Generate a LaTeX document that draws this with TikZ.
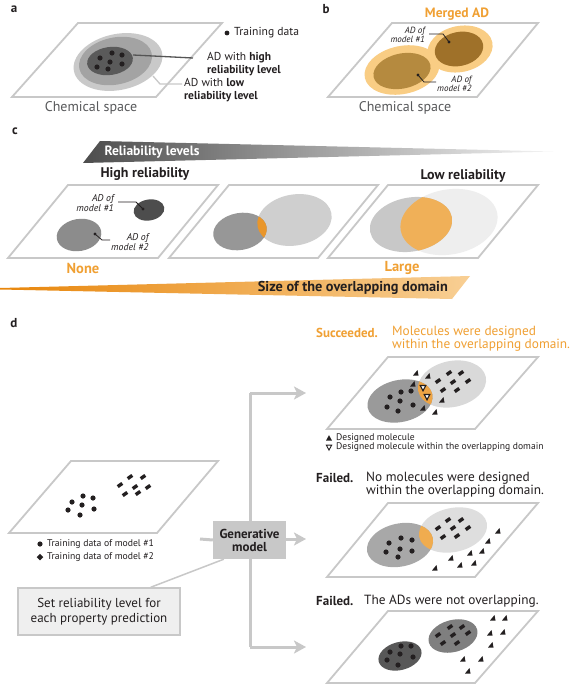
\documentclass[tikz,border=0pt]{standalone}
\usepackage{fontspec}
\setmainfont{PT Sans}
\usetikzlibrary{arrows.meta}
\definecolor{ink}{HTML}{231F20}
\definecolor{planec}{HTML}{C8C8C8}
\definecolor{orangeT}{HTML}{F0A033}
\definecolor{chem}{HTML}{58595B}
\definecolor{hiline}{HTML}{555555}
\definecolor{agA}{HTML}{C9C9C9}
\definecolor{agB}{HTML}{A3A3A3}
\definecolor{agC}{HTML}{5A5A5A}
\definecolor{halo}{HTML}{F9CD84}
\definecolor{brownA}{HTML}{9F7129}
\definecolor{brownB}{HTML}{B58A3F}
\definecolor{cdark}{HTML}{4D4D4D}
\definecolor{cmid}{HTML}{8C8C8C}
\definecolor{ptwoL}{HTML}{979797}
\definecolor{ptwoR}{HTML}{CFCFCF}
\definecolor{ptwoO}{HTML}{E9962B}
\definecolor{pthrL}{HTML}{C8C8C8}
\definecolor{pthrR}{HTML}{EEEEEE}
\definecolor{pthrO}{HTML}{F0B058}
\definecolor{sL}{HTML}{9A9A9A}
\definecolor{sR}{HTML}{D9D9D9}
\definecolor{sO}{HTML}{EEA445}
\definecolor{fL}{HTML}{A8A8A8}
\definecolor{fR}{HTML}{DEDEDE}
\definecolor{fO}{HTML}{F0AC4F}
\definecolor{gL}{HTML}{585858}
\definecolor{gR}{HTML}{7F7F7F}
\definecolor{boxg}{HTML}{C8C8C8}
\definecolor{boxl}{HTML}{EFEFEF}
\newcommand\fs[2]{\fontsize{#1}{#2}\selectfont}
\newcommand\myell[6]{\fill[#1, rotate around={#6:(#2,#3)}] (#2,#3) ellipse [x radius=#4, y radius=#5];}
\newcommand\mydot[2]{\fill[ink] (#1,#2) circle[radius=2.6];}
\newcommand\mydia[2]{\fill[ink, shift={(#1,#2)}, rotate=35] (-2.8,-1.7) rectangle (2.8,1.7);}
\newcommand\mytri[2]{\fill[ink, shift={(#1,#2)}] (-3,2.5) -- (2.5,2.5) -- (1.5,-3) -- cycle;}
\newcommand\myotri[2]{\filldraw[fill=white, draw=ink, line width=1.1pt, shift={(#1,#2)}] (-2.8,-2.5) -- (2.8,-2.5) -- (0,2.8) -- cycle;}
\tikzset{
  planeline/.style={draw=planec, line width=1.8pt, line join=miter},
  txt/.style={inner sep=0pt, text=ink},
  lab/.style={txt, font=\fs{13}{15}\bfseries},
  leader/.style={draw=ink, line width=0.8pt},
  small/.style={txt, font=\fs{9}{8}\itshape},
  smallc/.style={txt, font=\fs{9.8}{10}\itshape},
  head/.style={txt, font=\fs{13.5}{14}\bfseries},
  headd/.style={txt, font=\fs{13}{14}\bfseries},
  body/.style={txt, font=\fs{13.3}{12}},
  flow/.style={draw=planec, line width=3pt, line join=miter},
  tip/.style={-{Stealth[length=12pt,width=13pt,inset=3pt]}},
}
\begin{document}
\begin{tikzpicture}[x=1pt,y=-1pt]
\useasboundingbox (0,0) rectangle (574,685);
\fill[white] (0,0) rectangle (574,685);

% ================= a
\node[lab] (la) at (14,9) {a};
\draw[planeline] (78,23) -- (222,23) -- (156,97) -- (12,97) -- cycle;
\myell{agA}{118}{62}{45}{28}{12}
\myell{agB}{115.5}{61}{37}{23.5}{12}
\myell{agC}{110}{61}{23}{14}{8}
\foreach \x/\y in {112/53,122/55,100/58,110/62,122/64,97/67,108/69} {\mydot{\x}{\y}}
\coordinate (ha1) at (133,55); \coordinate (ha2) at (193,58);
\draw[line width=1.3pt, draw=hiline] (ha1) -- (ha2);
\node[txt, anchor=west, align=left, font=\fs{11.5}{12.5}] (hightxt) at (207,64) {AD with \textbf{high}\\\textbf{reliability level}};
\coordinate (lo1) at (153,76); \coordinate (lo2) at (160,84); \coordinate (lo3) at (182,84);
\draw[line width=1.3pt, draw=planec] (lo1) -- (lo2) -- (lo3);
\node[txt, anchor=west, align=left, font=\fs{11.5}{12.5}] (lowtxt) at (184,90) {AD with \textbf{low}\\\textbf{reliability level}};
\fill[ink] (227,33) circle[radius=2.4];
\node[txt, anchor=west, font=\fs{11.6}{12}] (train) at (234,33) {Training data};
\node[txt, text=chem, font=\fs{14}{15}] (chemA) at (91,108) {Chemical space};

% ================= b
\node[lab] (lb) at (326,9) {b};
\node[head, text=orangeT] (merged) at (457,14) {Merged AD};
\draw[planeline] (392,23) -- (538,23) -- (477,97) -- (328,97) -- cycle;
\myell{halo}{402}{70}{38}{24}{12}
\myell{halo}{460}{49}{33}{23}{12}
\myell{brownB}{402}{71}{29}{17.5}{12}
\myell{brownA}{459}{49}{24.5}{17}{12}
\coordinate (b1a) at (449,42); \coordinate (b1b) at (443,34); \coordinate (b1c) at (429,34);
\fill[ink] (b1a) circle[radius=1.6];
\draw[leader] (b1a) -- (b1b) -- (b1c);
\node[small, anchor=east, align=right] (m1b) at (425,35) {AD of\\model \#1};
\coordinate (b2a) at (418,75); \coordinate (b2b) at (424,82); \coordinate (b2c) at (436,82);
\fill[ink] (b2a) circle[radius=1.6];
\draw[leader] (b2a) -- (b2b) -- (b2c);
\node[small, anchor=west, align=right] (m2b) at (437,84) {AD of\\model \#2};
\node[txt, text=chem, font=\fs{14}{15}] (chemB) at (405,108) {Chemical space};

% ================= c
\node[lab] (lc) at (15,131) {c};
\shade[left color=cdark, right color=white!96!black] (100,141) -- (553,151.5) -- (83,163) -- cycle;
\node[head, text=white] (rel) at (152,152) {Reliability levels};
\node[head, font=\fs{14}{15}\bfseries] (hirel) at (145,174) {High reliability};
\node[head, font=\fs{14}{15}\bfseries] (lorel) at (463,176) {Low reliability};
\draw[planeline] (68,185) -- (218,185) -- (158,258) -- (8,258) -- cycle;
\draw[planeline] (229,185) -- (378,185) -- (318,258) -- (169,258) -- cycle;
\draw[planeline] (388,185) -- (538,185) -- (478,258) -- (328,258) -- cycle;
% P1
\myell{cdark}{149}{210}{15.5}{10.5}{10}
\myell{cmid}{79}{235}{22.5}{16}{10}
\coordinate (c1a) at (143,209); \coordinate (c1b) at (136,202); \coordinate (c1c) at (118,202);
\fill[ink] (c1a) circle[radius=1.6];
\draw[leader] (c1a) -- (c1b) -- (c1c);
\node[smallc, anchor=east, align=right] (m1c) at (114,203) {AD of\\model \#1};
\coordinate (c2a) at (95,234); \coordinate (c2b) at (102,240); \coordinate (c2c) at (110,240);
\fill[ink] (c2a) circle[radius=1.6];
\draw[leader] (c2a) -- (c2b) -- (c2c);
\node[smallc, anchor=west, align=right] (m2c) at (111,242) {AD of\\model \#2};
% P2
\myell{ptwoR}{294.5}{220}{37.5}{25.5}{10}
\myell{ptwoL}{240}{231.5}{27}{18.5}{10}
\begin{scope}
  \clip[rotate around={10:(294.5,220)}] (294.5,220) ellipse [x radius=37.5, y radius=25.5];
  \myell{ptwoO}{240}{231.5}{27}{18.5}{10}
\end{scope}
% P3
\myell{pthrR}{449}{222}{49}{32.5}{10}
\myell{pthrL}{411}{224.5}{41.5}{27}{10}
\begin{scope}
  \clip[rotate around={10:(449,222)}] (449,222) ellipse [x radius=49, y radius=32.5];
  \myell{pthrO}{411}{224.5}{41.5}{27}{10}
\end{scope}
\node[head, text=orangeT, font=\fs{14.5}{15}\bfseries] (none) at (83,268) {None};
\node[head, text=orangeT, font=\fs{14.5}{15}\bfseries] (large) at (402,268) {Large};
\shade[left color={rgb,255:red,232;green,134;blue,11}, right color={rgb,255:red,248;green,207;blue,148}] (0,288) -- (470,276) -- (452,299) -- (0,289.5) -- cycle;
\node[head, anchor=east, font=\fs{14.3}{15}\bfseries] (size) at (448,288) {Size of the overlapping domain};

% ================= d
\node[lab] (ld) at (14,323) {d};
\draw[planeline] (71,461) -- (218,461) -- (157,533) -- (9,533) -- cycle;
\foreach \x/\y in {83/496,93/498,72/502,82/505,94/509,68/510,80/515} {\mydot{\x}{\y}}
\foreach \x/\y in {130/477,143/477,120/485,135/487,148/487,125/494,138/493} {\mydia{\x}{\y}}
\fill[ink] (40,544) circle[radius=2.6];
\node[txt, anchor=west, font=\fs{9.7}{10}] (leg1) at (47,544) {Training data of model \#1};
\fill[ink, shift={(40,557)}, rotate=45] (-2.3,-2.3) rectangle (2.3,2.3);
\node[txt, anchor=west, font=\fs{9.7}{10}] (leg2) at (47,557) {Training data of model \#2};

% flow
\coordinate (ft) at (250,393); \coordinate (fta) at (306,393);
\coordinate (fb) at (250,647); \coordinate (fba) at (306,647);
\coordinate (fin) at (200,539);
\draw[flow, tip] (ft) -- (fta);
\draw[flow, tip] (fb) -- (fba);
\draw[flow] (ft) -- (fb);
\node[fill=boxg, minimum width=73pt, minimum height=38pt, inner sep=0pt, align=center, font=\fs{13}{13}\bfseries, text=ink] (gm) at (249.5,540) {Generative\\model};
\draw[flow] (fin) -- (gm.west);
\coordinate (fma) at (306,539);
\draw[flow, tip] (gm.east |- fma) -- (fma);
\node[fill=boxl, draw=planec, line width=1.5pt, minimum width=162pt, minimum height=47pt, inner sep=0pt, align=center, font=\fs{13}{15}, text=ink] (setrel) at (99,611.5) {Set reliability level for\\each property prediction};
\draw[draw=planec, line width=1.5pt] ([xshift=11pt]gm.south west) -- ([xshift=-30pt]setrel.north east);

% Succeeded
\node[headd, text=orangeT, anchor=west] (succ) at (316,333) {Succeeded.};
\node[body, text=orangeT, anchor=west, align=left] (succt) at (392,338.5) {Molecules were designed\\within the overlapping domain.};
\draw[planeline] (388,357) -- (538,357) -- (475,429) -- (327,429) -- cycle;
\myell{sR}{452}{384}{34.5}{23}{12}
\myell{sL}{400}{401}{33}{21}{12}
\begin{scope}
  \clip[rotate around={12:(452,384)}] (452,384) ellipse [x radius=34.5, y radius=23];
  \myell{sO}{400}{401}{33}{21}{12}
\end{scope}
\foreach \x/\y in {390/397,401/392,411/391,387/407,400/401,413/405,398/411} {\mydot{\x}{\y}}
\foreach \x/\y in {449/373,461/373,438/381,453/382,468/381,443/390,457/390} {\mydia{\x}{\y}}
\foreach \x/\y in {416/373,428/376,413/384,442/400,423/408,435/412} {\mytri{\x}{\y}}
\foreach \x/\y in {423/388,427/397} {\myotri{\x}{\y}}
\fill[ink, shift={(329,438)}] (-3,2.6) -- (3,2.6) -- (0,-2.8) -- cycle;
\node[txt, anchor=west, font=\fs{9.6}{10}] (leg3) at (336,438) {Designed molecule};
\filldraw[fill=white, draw=ink, line width=0.9pt, shift={(329,447.5)}] (-2.7,-2.4) -- (2.7,-2.4) -- (0,2.6) -- cycle;
\node[txt, anchor=west, font=\fs{9.6}{10}] (leg4) at (336,447.5) {Designed molecule within the overlapping domain};

% Failed 1
\node[headd, anchor=west] (fail1) at (316,478) {Failed.};
\node[body, anchor=west, align=left] (fail1t) at (366,484.5) {No molecules were designed\\within the overlapping domain.};
\draw[planeline] (388,503) -- (538,503) -- (475,577) -- (327,577) -- cycle;
\myell{fR}{453}{530}{34.5}{22}{12}
\myell{fL}{400}{545}{33.5}{21.5}{12}
\begin{scope}
  \clip[rotate around={12:(453,530)}] (453,530) ellipse [x radius=34.5, y radius=22];
  \myell{fO}{400}{545}{33.5}{21.5}{12}
\end{scope}
\foreach \x/\y in {389/543,401/538,412/540,386/552,400/549,412/551,398/557} {\mydot{\x}{\y}}
\foreach \x/\y in {448/520,461/520,438/528,453/528,468/528,443/537,457/536} {\mydia{\x}{\y}}
\foreach \x/\y in {498/531,488/541,482/551,470/553,451/558,460/565,474/563,435/568} {\mytri{\x}{\y}}

% Failed 2
\node[headd, anchor=west] (fail2) at (316,601) {Failed.};
\node[body, anchor=west] (fail2t) at (364,601) {The ADs were not overlapping.};
\draw[planeline] (388,611) -- (538,611) -- (475,683) -- (327,683) -- cycle;
\myell{gL}{400}{656}{22}{14}{15}
\myell{gR}{453}{636}{25}{16}{15}
\foreach \x/\y in {401/646,411/646,390/652,400/654,413/657,387/660,398/665} {\mydot{\x}{\y}}
\foreach \x/\y in {450/627,462/627,438/635,453/635,468/633,443/643,457/643} {\mydia{\x}{\y}}
\foreach \x/\y in {493/618,505/618,490/633,503/632,491/645,463/659,481/659,468/671} {\mytri{\x}{\y}}
\end{tikzpicture}
\end{document}
